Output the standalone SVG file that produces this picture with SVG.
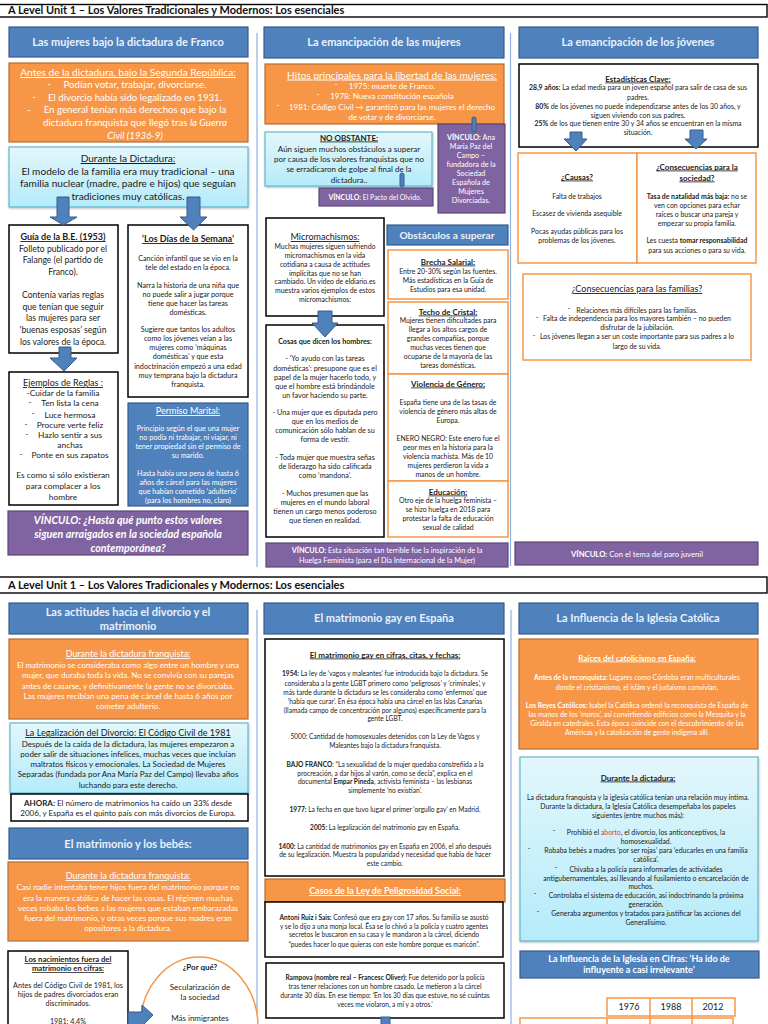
<svg xmlns="http://www.w3.org/2000/svg" width="768" height="1024" viewBox="0 0 768 1024">
<style>
text{font-family:Lato,"Noto Sans",sans-serif;text-anchor:middle;fill:#1a1a1a;font-size:6.9px}
.w{fill:#fff}
.b{font-weight:bold}
.i{font-style:italic}
.u{text-decoration:underline}
.bt{fill:#eaf1fa;font-weight:bold;font-size:11px}
.hd{text-anchor:start;font-size:11px;font-weight:bold;fill:#111}
.tl{fill:#4f81bd;stroke:#385d8a;stroke-width:1.2}
.or{fill:#f79646;stroke:#b66d31;stroke-width:1.2}
.cy{fill:url(#cyg);stroke:#4bacc6;stroke-width:1;filter:url(#sh)}
.pu{fill:#8064a2;stroke:#5c4776;stroke-width:1.2}
.bk{fill:#fff;stroke:#000;stroke-width:1.5}
.ol{fill:#fff;stroke:#f79646;stroke-width:1.5}
.ar{fill:#4f81bd;stroke:#385d8a;stroke-width:1}
.sp{stroke:#8db3e2;stroke-width:1.2;fill:none}
.hb{fill:#fff;stroke:#000;stroke-width:1.4}
.g{font-size:6.6px}.d{font-size:7.2px}.s73{font-size:7.3px}.s77{font-size:7.7px}
.s7{font-size:8px}.s84{font-size:8.4px}.s86{font-size:8.6px}.s8{font-size:9px}.s9{font-size:9.7px}.s10{font-size:10.1px}.s107{font-size:10.7px}.ob{font-size:10.2px}
</style>
<defs>
<linearGradient id="cyg" x1="0" y1="0" x2="0" y2="1"><stop offset="0" stop-color="#e2f7fb"/><stop offset="1" stop-color="#b5ebfa"/></linearGradient>
<filter id="sh" x="-5%" y="-5%" width="110%" height="115%"><feDropShadow dx="0.5" dy="1" stdDeviation="0.8" flood-color="#000" flood-opacity="0.3"/></filter>
</defs>
<rect width="768" height="1024" fill="#fff"/>
<g id="separators">
<path class="sp" d="M257 33V567M510.500 33V566M257 610V1024M511 610V1024"/>
</g>
<g id="header-1"><rect class="hb" x="-1" y="4.500" width="768" height="12.500"/><text class="hd" x="8" y="13.500">A Level Unit 1 – Los Valores Tradicionales y Modernos: Los esenciales</text></g>
<g id="header-2"><rect class="hb" x="-1" y="577" width="768" height="16"/><text class="hd" x="8" y="589">A Level Unit 1 – Los Valores Tradicionales y Modernos: Los esenciales</text></g>

<g id="mujeres-franco"><rect class="tl" x="9" y="27" width="239" height="30"/><text class="bt" x="128" y="46">Las mujeres bajo la dictadura de Franco</text></g>
<g id="antes-dictadura"><rect class="or" x="9" y="63" width="239" height="79"/>
<text class="w s9"><tspan class="u s10" x="128" y="76">Antes de la dictadura, bajo la Segunda República:</tspan><tspan x="135" y="88">Podían votar, trabajar, divorciarse.</tspan><tspan x="135" y="101">El divorcio había sido legalizado en 1931.</tspan><tspan x="135" y="113">En general tenían más derechos que bajo la</tspan><tspan x="135" y="126">dictadura franquista que llegó tras <tspan class="i">la Guerra</tspan></tspan><tspan class="i" x="135" y="139">Civil (1936-9)</tspan></text>
<text class="w s9"><tspan x="49" y="87">-</tspan><tspan x="34" y="100">-</tspan><tspan x="29" y="113">-</tspan></text></g>
<g id="durante-dictadura"><rect class="cy" x="9" y="147" width="239" height="60"/>
<text class="s10"><tspan class="u" x="128" y="162">Durante la Dictadura:</tspan><tspan x="128" y="175">El modelo de la familia era muy tradicional – una</tspan><tspan x="128" y="187">familia nuclear (madre, padre e hijos) que seguían</tspan><tspan x="128" y="200">tradiciones muy católicas.</tspan></text></g>
<g id="guia"><rect class="bk" x="9" y="225" width="109" height="128"/>
<text class="s86"><tspan class="b u s8" x="63" y="240">Guía de la B.E. (1953)</tspan><tspan x="63" y="252">Folleto publicado por el</tspan><tspan x="63" y="263">Falange (el partido de</tspan><tspan x="63" y="275">Franco).</tspan><tspan x="63" y="298">Contenía varias reglas</tspan><tspan x="63" y="310">que tenían que seguir</tspan><tspan x="63" y="321">las mujeres para ser</tspan><tspan x="63" y="333">‘buenas esposas’ según</tspan><tspan x="63" y="345">los valores de la época.</tspan></text></g>
<g id="dias-semana"><rect class="bk" x="128" y="225" width="120" height="172"/>
<text class="b u s8" x="188" y="242">‘Los Días de la Semana’</text>
<text class="d"><tspan x="188" y="261">Canción infantil que se vio en la</tspan><tspan x="188" y="270">tele del estado en la época.</tspan><tspan x="188" y="288">Narra la historia de una niña que</tspan><tspan x="188" y="297">no puede salir a jugar porque</tspan><tspan x="188" y="306">tiene que hacer las tareas</tspan><tspan x="188" y="315">domésticas.</tspan><tspan x="188" y="332">Sugiere que tantos los adultos</tspan><tspan x="188" y="341">como los jóvenes veían a las</tspan><tspan x="188" y="350">mujeres como ‘máquinas</tspan><tspan x="188" y="359">domésticas’ y que esta</tspan><tspan x="188" y="369">indoctrinación empezó a una edad</tspan><tspan x="188" y="378">muy temprana bajo la dictadura</tspan><tspan x="188" y="387">franquista.</tspan></text></g>
<g id="ejemplos"><rect class="bk" x="9" y="372" width="109" height="133"/>
<text class="s8 u" x="63" y="386">Ejemplos de Reglas :</text>
<text class="s84"><tspan x="63" y="396">-Cuidar de la familia</tspan><tspan x="70" y="406">Ten lista la cena</tspan><tspan x="70" y="418">Luce hermosa</tspan><tspan x="70" y="428">Procure verte feliz</tspan><tspan x="70" y="438">Hazlo sentir a sus</tspan><tspan x="70" y="448">anchas</tspan><tspan x="70" y="458">Ponte en sus zapatos</tspan><tspan x="63" y="478">Es como si sólo existieran</tspan><tspan x="63" y="489">para complacer a los</tspan><tspan x="63" y="500">hombre</tspan></text>
<text class="s7"><tspan x="30" y="405">-</tspan><tspan x="33" y="416">-</tspan><tspan x="26" y="427">-</tspan><tspan x="27" y="437">-</tspan><tspan x="21" y="457">-</tspan></text></g>
<g id="permiso"><rect class="tl" x="128" y="403" width="120" height="103"/>
<text class="w s8 u" x="188" y="414">Permiso Marital:</text>
<text class="w d"><tspan x="188" y="431">Principio según el que una mujer</tspan><tspan x="188" y="440">no podía ni trabajar, ni viajar, ni</tspan><tspan x="188" y="449">tener propiedad sin el permiso de</tspan><tspan x="188" y="458">su marido.</tspan><tspan x="188" y="476">Hasta había una pena de hasta 6</tspan><tspan x="188" y="485">años de cárcel para las mujeres</tspan><tspan x="188" y="494">que habían cometido ‘adulterio’</tspan><tspan x="188" y="503">(para los hombres no, claro)</tspan></text></g>
<g id="vinculo-1"><rect class="pu" x="8" y="511" width="240" height="44"/>
<text class="w b i s107"><tspan x="128" y="523.500">VÍNCULO: ¿Hasta qué punto estos valores</tspan><tspan x="128" y="537.500">siguen arraigados en la sociedad española</tspan><tspan x="128" y="551.500">contemporánea?</tspan></text></g>

<g id="emancipacion-mujeres"><rect class="tl" x="264" y="27" width="240" height="31"/><text class="bt" x="384" y="46">La emancipación de las mujeres</text></g>
<g id="hitos"><rect class="or" x="265" y="64" width="239" height="60"/>
<text class="w s10 u" x="392" y="78.500">Hitos principales para la libertad de las mujeres:</text>
<text class="w s7"><tspan x="392" y="88.500">1975: muerte de Franco.</tspan><tspan x="392" y="98.500">1978: Nueva constitución española</tspan><tspan x="392" y="109.500">1981: Código Civil → garantizó para las mujeres el derecho</tspan><tspan x="392" y="119.500">de votar y de divorciarse.</tspan></text>
<text class="w s7"><tspan x="336" y="87">-</tspan><tspan x="318" y="97">-</tspan><tspan x="278" y="108">-</tspan></text></g>
<g id="vinculo-ana"><rect class="pu" x="438" y="124" width="67" height="89"/>
<text class="w d"><tspan x="471" y="140"><tspan class="b">VÍNCULO:</tspan> Ana</tspan><tspan x="471" y="149">María Paz del</tspan><tspan x="471" y="158">Campo –</tspan><tspan x="471" y="166.500">fundadora de la</tspan><tspan x="471" y="175.500">Sociedad</tspan><tspan x="471" y="185">Española de</tspan><tspan x="471" y="194">Mujeres</tspan><tspan x="471" y="203">Divorciadas.</tspan></text></g>
<g id="no-obstante"><rect class="cy" x="265" y="132" width="167" height="54"/>
<text class="s7"><tspan class="b u" x="349" y="140.500">NO OBSTANTE:</tspan><tspan x="349" y="151.500">Aún siguen muchos obstáculos a superar</tspan><tspan x="349" y="161.500">por causa de  los valores franquistas que no</tspan><tspan x="349" y="171.500">se erradicaron de golpe al final de la</tspan><tspan x="349" y="182.500">dictadura..</tspan></text></g>
<g id="vinculo-pacto"><rect class="pu" x="319" y="188" width="114" height="18"/><text class="w" x="375" y="199.500"><tspan class="b">VÍNCULO:</tspan> El Pacto del Olvido.</text></g>
<g id="micromachismos"><rect class="bk" x="266" y="218" width="118" height="98"/>
<text class="s8 u" x="325" y="240">Micromachismos:</text>
<text><tspan x="325" y="249">Muchas mujeres siguen sufriendo</tspan><tspan x="325" y="257.500">micromachismos en la vida</tspan><tspan x="325" y="266.500">cotidiana a causa de actitudes</tspan><tspan x="325" y="275.500">implícitas que no se han</tspan><tspan x="325" y="284">cambiado. Un vídeo de eldiario.es</tspan><tspan x="325" y="293">muestra varios ejemplos de estos</tspan><tspan x="325" y="302">micromachismos:</tspan></text></g>
<g id="cosas"><rect class="bk" x="266" y="325" width="118" height="212"/>
<text class="b d" x="325" y="344">Cosas que dicen los hombres:</text>
<text class="d"><tspan x="325" y="361">- ‘Yo ayudo con las tareas</tspan><tspan x="325" y="371">domésticas’: presupone que es el</tspan><tspan x="325" y="380">papel de la mujer hacerlo todo, y</tspan><tspan x="325" y="389">que el hombre está brindándole</tspan><tspan x="325" y="398">un favor haciendo su parte.</tspan><tspan x="325" y="415">- Una mujer que es diputada pero</tspan><tspan x="325" y="424">que en los medios de</tspan><tspan x="325" y="433">comunicación sólo hablan de su</tspan><tspan x="325" y="442">forma de vestir.</tspan><tspan x="325" y="460">- Toda mujer que muestra señas</tspan><tspan x="325" y="469">de liderazgo ha sido calificada</tspan><tspan x="325" y="478">como ‘mandona’.</tspan><tspan x="325" y="496">- Muchos presumen que las</tspan><tspan x="325" y="505">mujeres en el mundo laboral</tspan><tspan x="325" y="514">tienen un cargo menos poderoso</tspan><tspan x="325" y="523">que tienen en realidad.</tspan></text></g>
<g id="obstaculos"><rect class="tl" x="387" y="225" width="121" height="20"/><text class="bt ob" x="447" y="239">Obstáculos a superar</text></g>
<g id="brecha"><rect class="ol" x="388" y="250" width="120" height="49"/>
<text class="b u s7" x="448" y="264.500">Brecha Salarial:</text>
<text><tspan x="448" y="274">Entre 20-30% según las fuentes.</tspan><tspan x="448" y="283">Más estadísticas en la Guía de</tspan><tspan x="448" y="292">Estudios para esa unidad.</tspan></text></g>
<g id="techo"><rect class="ol" x="388" y="302" width="120" height="72"/>
<text class="b u s7" x="448" y="314.500">Techo de Cristal:</text>
<text><tspan x="448" y="323">Mujeres tienen dificultades para</tspan><tspan x="448" y="332">llegar a los altos cargos de</tspan><tspan x="448" y="341">grandes compañías, porque</tspan><tspan x="448" y="350">muchas veces tienen que</tspan><tspan x="448" y="359">ocuparse de la mayoría de las</tspan><tspan x="448" y="368">tareas domésticas.</tspan></text></g>
<g id="violencia"><rect class="ol" x="388" y="374" width="120" height="107"/>
<text class="b u s7" x="448" y="386.500">Violencia de Género:</text>
<text><tspan x="448" y="405">España tiene una de las tasas de</tspan><tspan x="448" y="414">violencia de género más altas de</tspan><tspan x="448" y="423">Europa.</tspan><tspan x="448" y="441">ENERO NEGRO: Este enero fue el</tspan><tspan x="448" y="450">peor mes en la historia para la</tspan><tspan x="448" y="459">violencia machista. Más de 10</tspan><tspan x="448" y="468">mujeres perdieron la vida a</tspan><tspan x="448" y="476.500">manos de un hombre.</tspan></text></g>
<g id="educacion"><rect class="ol" x="388" y="481" width="120" height="56"/>
<text class="b u s7" x="448" y="494.500">Educación:</text>
<text><tspan x="448" y="503">Otro eje de la huelga feminista –</tspan><tspan x="448" y="512">se hizo huelga en 2018 para</tspan><tspan x="448" y="521">protestar la falta de educación</tspan><tspan x="448" y="529.500">sexual de calidad</tspan></text></g>
<g id="vinculo-huelga"><rect class="pu" x="266" y="543" width="242" height="24"/>
<text class="w s73"><tspan x="387" y="552.500"><tspan class="b">VÍNCULO:</tspan> Esta situación  tan terrible fue la inspiración de la</tspan><tspan x="387" y="562.500">Huelga Feminista (para el Día Internacional de la Mujer)</tspan></text></g>

<g id="emancipacion-jovenes"><rect class="tl" x="519" y="27" width="239" height="31"/><text class="bt" x="638" y="46">La emancipación de los jóvenes</text></g>
<g id="estadisticas"><rect class="bk" x="519" y="64" width="239" height="83"/>
<text class="b u s7" x="638" y="81.500">Estadísticas Clave:</text>
<text><tspan x="638" y="90"><tspan class="b">28,9 años:</tspan> La edad media para un joven español para salir de casa de sus</tspan><tspan x="638" y="100">padres.</tspan><tspan x="638" y="109"><tspan class="b">80%</tspan> de los jóvenes no puede independizarse antes de los 30 años, y</tspan><tspan x="638" y="118">siguen viviendo con sus padres.</tspan><tspan x="638" y="126"><tspan class="b">25%</tspan> de los que tienen entre 30 y 34 años se encuentran en la misma</tspan><tspan x="638" y="135">situación.</tspan></text></g>
<g id="causas"><rect class="ol" x="518" y="153" width="119" height="110"/>
<text class="b u s7" x="577" y="179.500">¿Causas?</text>
<text><tspan x="577" y="199">Falta de trabajos</tspan><tspan x="577" y="216">Escasez de vivienda asequible</tspan><tspan x="577" y="234">Pocas ayudas públicas para los</tspan><tspan x="577" y="243">problemas de los jóvenes.</tspan></text></g>
<g id="consecuencias-sociedad"><rect class="ol" x="637" y="153" width="119" height="110"/>
<text class="b u s7"><tspan x="697" y="169.500">¿Consecuencias para la</tspan><tspan x="697" y="180.500">sociedad?</tspan></text>
<text><tspan x="697" y="199"><tspan class="b">Tasa de natalidad más baja:</tspan> no se</tspan><tspan x="697" y="208">ven con opciones para echar</tspan><tspan x="697" y="217">raíces o buscar una pareja y</tspan><tspan x="697" y="226">empezar su propia familia.</tspan><tspan x="697" y="243">Les cuesta <tspan class="b">tomar responsabilidad</tspan></tspan><tspan x="697" y="253">para sus acciones o para su vida.</tspan></text></g>
<g id="consecuencias-familias"><rect class="ol" x="523" y="274" width="228" height="86"/>
<text class="s8 u" x="637" y="292">¿Consecuencias para las familias?</text>
<text><tspan x="637" y="313">Relaciones más difíciles para las familias.</tspan><tspan x="637" y="321">Falta de independencia para los mayores también – no pueden</tspan><tspan x="637" y="330">disfrutar de la jubilación.</tspan><tspan x="637" y="339">Los jóvenes llegan a ser un coste importante para sus padres a lo</tspan><tspan x="637" y="349">largo de su vida.</tspan><tspan x="569" y="311">-</tspan><tspan x="537" y="320">-</tspan><tspan x="534" y="338">-</tspan></text></g>
<g id="vinculo-paro"><rect class="pu" x="515" y="542" width="243" height="23"/><text class="w s77" x="637" y="556.500"><tspan class="b">VÍNCULO:</tspan> Con el tema del paro juvenil</text></g>

<g id="actitudes"><rect class="tl" x="9" y="603" width="239" height="31"/>
<text class="bt"><tspan x="128" y="616">Las actitudes hacia el divorcio y el</tspan><tspan x="128" y="630">matrimonio</tspan></text></g>
<g id="dictadura-matrimonio"><rect class="or" x="9" y="639" width="239" height="80"/>
<text class="w s8 u" x="128" y="657">Durante la dictadura franquista:</text>
<text class="w s7"><tspan x="128" y="667.500">El matrimonio se consideraba como algo entre un hombre y una</tspan><tspan x="128" y="677.500">mujer, que duraba toda la vida. No se convivía con su parejas</tspan><tspan x="128" y="688.500">antes de casarse, y definitivamente la gente no se divorciaba.</tspan><tspan x="128" y="698.500">Las mujeres recibían una pena de cárcel  de hasta 6 años por</tspan><tspan x="128" y="708.500">cometer adulterio.</tspan></text></g>
<g id="legalizacion"><rect class="cy" x="10" y="723" width="238" height="70"/>
<text class="s8 u" x="128" y="736">La Legalización del Divorcio: El Código Civil de 1981</text>
<text class="s7"><tspan x="128" y="746.500">Después de la caída de la dictadura, las mujeres empezaron a</tspan><tspan x="128" y="756.500">poder salir de situaciones infelices, muchas veces que incluían</tspan><tspan x="128" y="766.500">maltratos físicos y emocionales. La Sociedad de Mujeres</tspan><tspan x="128" y="776.500">Separadas (fundada por Ana María Paz del Campo) llevaba años</tspan><tspan x="128" y="787.500">luchando para este derecho.</tspan></text></g>
<g id="ahora"><rect class="bk" x="11" y="794" width="237" height="27"/>
<text class="s7"><tspan x="128" y="805.500"><tspan class="b">AHORA:</tspan> El número de matrimonios ha caído un 33% desde</tspan><tspan x="128" y="815.500">2006, y España es el quinto país con más divorcios de Europa.</tspan></text></g>
<g id="matrimonio-bebes"><rect class="tl" x="9" y="828" width="239" height="31"/><text class="bt" x="128" y="848">El matrimonio y los bebés:</text></g>
<g id="dictadura-bebes"><rect class="or" x="8" y="862" width="240" height="79"/>
<text class="w s8 u" x="128" y="879">Durante la dictadura franquista:</text>
<text class="w s7"><tspan x="128" y="889.500">Casi nadie intentaba tener hijos fuera del matrimonio porque no</tspan><tspan x="128" y="900.500">era la manera católica de hacer las cosas. El régimen muchas</tspan><tspan x="128" y="910.500">veces robaba los bebes a las mujeres que estaban embarazadas</tspan><tspan x="128" y="920.500">fuera del matrimonio, y otras veces porque sus madres eran</tspan><tspan x="128" y="930.500">opositores a la dictadura.</tspan></text></g>
<g id="nacimientos"><rect class="bk" x="8" y="951" width="120" height="80"/>
<text class="b u s77"><tspan x="68" y="962">Los nacimientos fuera del</tspan><tspan x="68" y="971">matrimonio en cifras:</tspan></text>
<text class="d"><tspan x="68" y="988">Antes del Código Civil de 1981, los</tspan><tspan x="68" y="997">hijos de padres divorciados eran</tspan><tspan x="68" y="1006">discriminados.</tspan><tspan x="68" y="1024">1981: 4.4%</tspan></text></g>
<g id="por-que"><ellipse class="ol" cx="199" cy="1027" rx="59" ry="70"/>
<text class="s7"><tspan class="b" x="200" y="969.500">¿Por qué?</tspan><tspan x="200" y="989.500">Secularización de</tspan><tspan x="200" y="999.500">la sociedad</tspan><tspan x="200" y="1020.500">Más inmigrantes</tspan></text></g>

<g id="matrimonio-gay"><rect class="tl" x="264" y="603" width="240" height="31"/><text class="bt" x="384" y="622">El matrimonio gay en España</text></g>
<g id="cifras-gay"><rect class="bk" x="265" y="639" width="239" height="237"/>
<text class="b u s7" x="385" y="657.500">El matrimonio gay en cifras, citas, y fechas:</text>
<text class="g"><tspan x="385" y="675.500"><tspan class="b">1954:</tspan> La ley de ‘vagos y maleantes’ fue introducida bajo la dictadura. Se</tspan><tspan x="385" y="685.500">consideraba a  la gente LGBT primero como ‘peligrosos’ y ‘criminales’, y</tspan><tspan x="385" y="694.500">más tarde durante la dictadura se les consideraba como ‘enfermos’ que</tspan><tspan x="385" y="703.500">‘había que curar’. En ésa época había una cárcel en las Islas Canarias</tspan><tspan x="385" y="712.500">(llamada campo de concentración por algunos) específicamente para la</tspan><tspan x="385" y="720.500">gente LGBT.</tspan><tspan x="385" y="738.500">5000: Cantidad de homosexuales detenidos con la Ley de Vagos y</tspan><tspan x="385" y="747.500">Maleantes bajo la dictadura franquista.</tspan><tspan x="385" y="766.500"><tspan class="b">BAJO FRANCO</tspan>: “La sexualidad de la mujer quedaba constreñida a la</tspan><tspan x="385" y="775.500">procreación, a dar hijos al varón, como se decía”, explica en el</tspan><tspan x="385" y="783.500">documental <tspan class="b">Empar Pineda</tspan>, activista feminista – las lesbianas</tspan><tspan x="385" y="792.500">simplemente ‘no existían’.</tspan><tspan x="385" y="811.500"><tspan class="b">1977:</tspan> La fecha en que tuvo lugar el primer ‘orgullo gay’ en Madrid.</tspan><tspan x="385" y="829.500"><tspan class="b">2005:</tspan> La legalización del matrimonio gay en España.</tspan><tspan x="385" y="848.500"><tspan class="b">1400:</tspan> La cantidad de matrimonios gay en España en 2006, el año después</tspan><tspan x="385" y="856.500">de su legalización. Muestra la popularidad y necesidad que había de hacer</tspan><tspan x="385" y="865.500">este cambio.</tspan></text></g>
<g id="casos-ley"><rect class="or" x="265" y="879" width="240" height="23"/><text class="w b u s8" x="385" y="894">Casos de la Ley de Peligrosidad Social:</text></g>
<g id="antoni"><rect class="bk" x="265" y="902" width="238" height="55"/>
<text class="g"><tspan x="384" y="919.500"><tspan class="b">Antoni Ruiz i Sais:</tspan> Confesó que era gay con 17 años. Su familia se asustó</tspan><tspan x="384" y="928.500">y se lo dijo a una monja local. Ésa se lo chivó a la policía y cuatro agentes</tspan><tspan x="384" y="936.500">secretos le buscaron en su casa y le mandaron a la cárcel, diciendo</tspan><tspan x="384" y="946.500">“puedes hacer lo que quieras con este hombre porque es maricón”.</tspan></text></g>
<g id="rampova"><rect class="bk" x="266" y="963" width="238" height="55"/>
<text class="g"><tspan x="385" y="979.500"><tspan class="b">Rampova (nombre real – Francesc Oliver):</tspan> Fue detenido por la policía</tspan><tspan x="385" y="988.500">tras tener relaciones con un hombre casado. Le metieron a la cárcel</tspan><tspan x="385" y="997.500">durante 30 días. En ese tiempo: ‘En los 30 días que estuve, no sé cuántas</tspan><tspan x="385" y="1006.500">veces me violaron, a mí y a otros.’</tspan></text></g>

<g id="influencia-iglesia"><rect class="tl" x="519" y="603" width="239" height="31"/><text class="bt" x="638" y="622">La Influencia de la Iglesia Católica</text></g>
<g id="raices"><rect class="or" x="519" y="639" width="239" height="110"/>
<text class="w b u s7" x="637" y="660.500">Raíces del catolicismo en España:</text>
<text class="w"><tspan x="637" y="679.500"><tspan class="b">Antes de la reconquista:</tspan> Lugares como Córdoba eran multiculturales</tspan><tspan x="637" y="689.500">donde el cristianismo, el islám y el judaísmo convivían.</tspan><tspan x="637" y="707.500"><tspan class="b">Los Reyes Católicos:</tspan> Isabel la Católica ordenó la reconquista de España de</tspan><tspan x="637" y="716.500">las manos de los ‘moros’, así convirtiendo edificios como la Mezquita y la</tspan><tspan x="637" y="725.500">Giralda en catedrales. Esta época coincide con el descubrimiento de las</tspan><tspan x="637" y="734.500">Américas y la catolización de gente indígena allí.</tspan></text></g>
<g id="durante-iglesia"><rect class="cy" x="520" y="757" width="238" height="184"/>
<text class="b u s7" x="638" y="780.500">Durante la dictadura:</text>
<text><tspan x="638" y="799.500">La dictadura franquista y la iglesia católica tenían una relación muy íntima.</tspan><tspan x="638" y="808.500">Durante la dictadura, la Iglesia Católica desempeñaba los papeles</tspan><tspan x="638" y="817.500">siguientes (entre muchos más):</tspan><tspan x="646" y="834.500">Prohibió el <tspan fill="#e8333c">aborto</tspan>, el divorcio, los anticonceptivos, la</tspan><tspan x="646" y="843.500">homosexualidad.</tspan><tspan x="646" y="852.500">Robaba bebés a madres ‘por ser rojas’ para ‘educarles en una familia</tspan><tspan x="646" y="861.500">católica’.</tspan><tspan x="646" y="871.500">Chivaba a la policía para informarles de actividades</tspan><tspan x="646" y="880.500">antigubernamentales, así llevando al fusilamiento o encarcelación de</tspan><tspan x="641" y="888.500">muchos.</tspan><tspan x="646" y="897.500">Controlaba el sistema de educación, así indoctrinando la próxima</tspan><tspan x="646" y="906.500">generación.</tspan><tspan x="646" y="915.500">Generaba argumentos y tratados para justificar las acciones del</tspan><tspan x="646" y="924.500">Generalísimo.</tspan><tspan x="554" y="833">-</tspan><tspan x="529" y="851">-</tspan><tspan x="556" y="870">-</tspan><tspan x="535" y="896">-</tspan><tspan x="538" y="914">-</tspan></text></g>
<g id="iglesia-cifras"><rect class="tl" x="520" y="951" width="239" height="27"/>
<text class="w b s8"><tspan x="639" y="962">La Influencia de la Iglesia en Cifras: ‘Ha ido de</tspan><tspan x="639" y="973">influyente a casi irrelevante’</tspan></text></g>
<g id="tabla"><path class="ol" d="M607 998H735V1016H607ZM650 998V1040M692 998V1040M607 1018H733V1040H607ZM520 1018H607V1040H520Z"/>
<text class="s8"><tspan x="629" y="1010">1976</tspan><tspan x="671" y="1010">1988</tspan><tspan x="713" y="1010">2012</tspan></text></g>

<g id="connectors">
<path class="ar" d="M57 197H69V217H77L63.500 225L50 217H57Z"/>
<path class="ar" d="M187 197H200V217H207L193.500 230L180 217H187Z"/>
<path class="ar" d="M59 347H71V358H77L64 371L50 358H59Z"/>
<path class="ar" d="M318 311H332V323H338L325 337L312 323H318Z"/>
<path class="ar" d="M570 132H582V139H587L576 151L564 139H570Z"/>
<path class="ar" d="M690 130H703V139H707L696 149L685 139H690Z"/>
<path class="ar" d="M128 1012H142V1005L153 1015L142 1026V1030H128Z"/>
<rect class="ar" x="472" y="117" width="4" height="15" rx="2"/>
<rect class="ar" x="400" y="173" width="4" height="14" rx="2"/>
<rect class="ar" x="381" y="1017" width="9" height="8"/>
</g>
</svg>
